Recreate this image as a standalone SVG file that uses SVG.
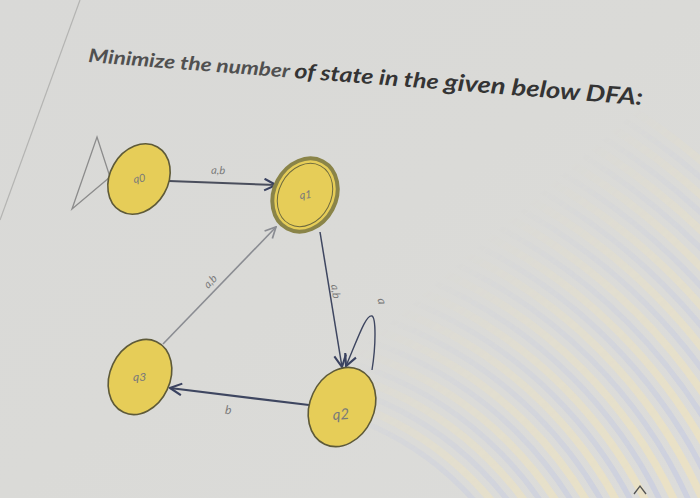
<svg xmlns="http://www.w3.org/2000/svg" width="700" height="498" viewBox="0 0 700 498">
<defs>
<linearGradient id="bg" x1="0" y1="0" x2="1" y2="1">
<stop offset="0" stop-color="#d9d9d7"/>
<stop offset="0.5" stop-color="#dadad7"/>
<stop offset="1" stop-color="#dcdcda"/>
</linearGradient>
<linearGradient id="fade" gradientUnits="userSpaceOnUse" x1="470" y1="250" x2="660" y2="470">
<stop offset="0" stop-color="#fff" stop-opacity="0"/>
<stop offset="0.5" stop-color="#fff" stop-opacity="0.45"/>
<stop offset="1" stop-color="#fff" stop-opacity="0.85"/>
</linearGradient>
<mask id="m"><rect width="700" height="498" fill="url(#fade)"/></mask>
<marker id="arrD" viewBox="0 0 12 12" refX="11" refY="6" markerWidth="14" markerHeight="14" markerUnits="userSpaceOnUse" orient="auto">
<path d="M1,1 L11,6 L1,11" fill="none" stroke="#3a4260" stroke-width="1.8"/>
</marker>
<marker id="arrG" viewBox="0 0 12 12" refX="11" refY="6" markerWidth="13" markerHeight="13" markerUnits="userSpaceOnUse" orient="auto">
<path d="M1,1 L11,6 L1,11" fill="none" stroke="#8a8c92" stroke-width="1.6"/>
</marker>
</defs>
<style>
.st{fill:#e6cd58;stroke:#5e5a38;stroke-width:1.6}
.lbl{font-family:Lato,"Liberation Sans",sans-serif;font-style:italic;fill:#7a7a7a}
.e{fill:none}
.b{stroke:#cbcfdf;stroke-width:5.5}
.c{stroke:#ece2c2;stroke-width:7.5}
</style>
<rect width="700" height="498" fill="url(#bg)"/>
<g id="moire" fill="none" mask="url(#m)">
<circle class="b" cx="250" cy="700" r="300"/><circle class="c" cx="250" cy="700" r="313"/>
<circle class="b" cx="250" cy="700" r="326"/><circle class="c" cx="250" cy="700" r="339"/>
<circle class="b" cx="250" cy="700" r="352"/><circle class="c" cx="250" cy="700" r="365"/>
<circle class="b" cx="250" cy="700" r="378"/><circle class="c" cx="250" cy="700" r="391"/>
<circle class="b" cx="250" cy="700" r="404"/><circle class="c" cx="250" cy="700" r="417"/>
<circle class="b" cx="250" cy="700" r="430"/><circle class="c" cx="250" cy="700" r="443"/>
<circle class="b" cx="250" cy="700" r="456"/><circle class="c" cx="250" cy="700" r="469"/>
<circle class="b" cx="250" cy="700" r="482"/><circle class="c" cx="250" cy="700" r="495"/>
<circle class="b" cx="250" cy="700" r="508"/><circle class="c" cx="250" cy="700" r="521"/>
<circle class="b" cx="250" cy="700" r="534"/><circle class="c" cx="250" cy="700" r="547"/>
<circle class="b" cx="250" cy="700" r="560"/><circle class="c" cx="250" cy="700" r="573"/>
<circle class="b" cx="250" cy="700" r="586"/><circle class="c" cx="250" cy="700" r="599"/>
<circle class="b" cx="250" cy="700" r="612"/><circle class="c" cx="250" cy="700" r="625"/>
<circle class="b" cx="250" cy="700" r="638"/><circle class="c" cx="250" cy="700" r="651"/>
<circle class="b" cx="250" cy="700" r="664"/><circle class="c" cx="250" cy="700" r="677"/>
<circle class="b" cx="250" cy="700" r="690"/><circle class="c" cx="250" cy="700" r="703"/>
</g>
<line x1="80" y1="0" x2="0" y2="220" stroke="#b4b4b2" stroke-width="1.2"/>
<text x="88" y="62" transform="rotate(4.45 88 62)" font-family="Lato,'Liberation Sans',sans-serif" font-style="italic" font-weight="bold" fill="#343434" textLength="556" lengthAdjust="spacingAndGlyphs"><tspan font-size="19" fill="#505050">Minimize the number </tspan><tspan font-size="21">of state in the </tspan><tspan font-size="23">given below DFA:</tspan></text>
<g id="connectors">
<path id="start" d="M97,137 L110,177 L72,209 Z" fill="none" stroke="#8c8c8c" stroke-width="1.3"/>
<path d="M169,181 L276,185" class="e" stroke="#4a4e5c" stroke-width="2" marker-end="url(#arrD)"/>
<text class="lbl" font-size="11" x="218" y="174" transform="rotate(3 218 174)" text-anchor="middle">a,b</text>
<path d="M163,344 L276,227" class="e" stroke="#8a8c92" stroke-width="1.6" marker-end="url(#arrG)"/>
<text class="lbl" font-size="11" x="213" y="284" transform="rotate(-46 213 284)" text-anchor="middle">a,b</text>
<path d="M320,232 L342,367" class="e" stroke="#3e4660" stroke-width="1.5" marker-end="url(#arrD)"/>
<text class="lbl" font-size="11" x="332" y="292" transform="rotate(82 332 292)" text-anchor="middle">a,b</text>
<path d="M372,370 C376,345 376,318 372,316 C366,314 358,338 346,366" class="e" stroke="#3e4660" stroke-width="1.4" marker-end="url(#arrD)"/>
<text class="lbl" font-size="12" x="378" y="302" transform="rotate(80 378 302)" text-anchor="middle">a</text>
<path d="M309,405 L170,388" class="e" stroke="#3e4660" stroke-width="2.2" marker-end="url(#arrD)"/>
<text class="lbl" font-size="12" x="228" y="414" transform="rotate(6 228 414)" text-anchor="middle">b</text>
</g>
<g id="q0">
<ellipse class="st" cx="139" cy="179" rx="29" ry="37" transform="rotate(30 139 179)"/>
<text class="lbl" font-size="11" x="134" y="183" transform="rotate(-8 134 183)" fill="#8a7e3a">q0</text>
</g>
<g id="q1">
<ellipse cx="305" cy="195" rx="31" ry="38" transform="rotate(28 305 195)" fill="#e6cd58" stroke="#8a8448" stroke-width="4"/>
<ellipse cx="305" cy="195" rx="26" ry="33" transform="rotate(28 305 195)" fill="none" stroke="#6e6a3e" stroke-width="1"/>
<text class="lbl" font-size="11" x="300" y="199" transform="rotate(-6 300 199)" fill="#8a7e3a">q1</text>
</g>
<g id="q3">
<ellipse class="st" cx="140" cy="377" rx="30" ry="39" transform="rotate(25 140 377)"/>
<text class="lbl" font-size="12" x="133" y="381" fill="#8a7e3a">q3</text>
</g>
<g id="q2">
<ellipse class="st" cx="342" cy="407" rx="32" ry="41" transform="rotate(25 342 407)"/>
<text class="lbl" font-size="15" x="333" y="420" transform="rotate(-4 333 420)" fill="#5c5a48">q2</text>
</g>
<path d="M634,494 L640,486 L646,494" fill="none" stroke="#555" stroke-width="1.3"/>
</svg>
